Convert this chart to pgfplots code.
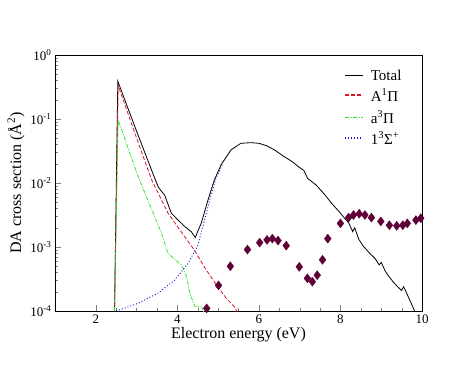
\documentclass[border=0pt]{standalone}
\usepackage{fontspec}
\setmainfont{Liberation Serif}
\usepackage{pgfplots}
\pgfplotsset{compat=1.18}
\definecolor{dmaroon}{RGB}{96,0,56}
\definecolor{cred}{RGB}{220,20,40}
\definecolor{cgreen}{RGB}{40,230,40}
\definecolor{cblue}{RGB}{20,20,200}
\begin{document}
\begin{tikzpicture}
\useasboundingbox (-55pt,-55pt) rectangle (419pt,311pt);
\begin{axis}[
  at={(0pt,0pt)}, anchor=south west,
  scale only axis, width=367pt, height=256pt,
  ymode=log, xmin=1, xmax=10, ymin=1e-4, ymax=1,
  xtick={2,4,6,8,10}, minor x tick num=3,
  ytick={1e-4,1e-3,1e-2,1e-1,1},
  yticklabels={10\textsuperscript{-4},10\textsuperscript{-3},10\textsuperscript{-2},10\textsuperscript{-1},10\textsuperscript{0}},
  tick align=inside, xtick pos=bottom, ytick pos=left,
  major tick length=6pt, minor tick length=3pt,
  /pgf/number format/assume math mode=true,
  tick label style={font=\fontsize{13}{15}\selectfont},
  label style={font=\fontsize{16}{18}\selectfont},
  xlabel={Electron energy (eV)},
  ylabel={DA cross section (Å\textsuperscript{2})},
  xlabel style={yshift=3pt},
  ylabel style={yshift=-1pt},
  axis line style={line width=0.8pt},
]
\addplot[draw=black, line width=0.8pt] coordinates {
(2.46,1e-4) (2.54,0.389) (3.0,0.0646) (3.37,0.0158) (3.53,0.00871) (3.60,0.00759)
(3.69,0.00646) (3.85,0.00339) (4.02,0.00263) (4.18,0.00209) (4.34,0.00174) (4.44,0.00141)
(4.59,0.0024) (4.75,0.00537) (4.91,0.0112) (5.07,0.0191) (5.32,0.0331) (5.56,0.0417)
(5.80,0.0427) (6.0,0.0417) (6.2,0.0380) (6.4,0.0324) (6.6,0.0263) (6.8,0.0219)
(7.0,0.0174) (7.1,0.0158) (7.2,0.0117) (7.4,0.00933) (7.6,0.00676) (7.8,0.00468)
(8.0,0.00339) (8.1,0.00282) (8.2,0.0024) (8.3,0.00174) (8.35,0.002) (8.45,0.00132)
(8.55,0.00105) (8.65,0.00089) (8.75,0.00076) (8.85,0.00066) (8.95,0.000525) (9.0,0.000575)
(9.1,0.000417) (9.2,0.000339) (9.3,0.000282) (9.4,0.00024) (9.5,0.000209) (9.55,0.00024)
(9.65,0.000174) (9.75,0.000126) (9.85,0.0000891)
};
\addplot[draw=cred, dash pattern=on 4pt off 2pt, line width=0.8pt] coordinates {
(2.46,1e-4) (2.55,0.331) (3.04,0.0427) (3.37,0.0112) (3.77,0.00339) (4.18,0.00145)
(4.42,0.00089) (4.7,0.000447) (4.99,0.00024) (5.2,0.000158) (5.40,0.000117) (5.5,0.0000891)
};
\addplot[draw=cgreen, dash pattern=on 4pt off 1.5pt on 1pt off 1.5pt, line width=0.8pt] coordinates {
(2.46,1e-4) (2.55,0.0955) (3.04,0.0126) (3.3,0.00501) (3.61,0.00166) (3.77,0.000794)
(4.1,0.000525) (4.22,0.000355) (4.3,0.0002) (4.42,0.00012) (4.6,0.000115) (4.7,0.0000794)
};
\addplot[draw=cblue, dash pattern=on 1pt off 2pt, line width=0.9pt] coordinates {
(2.5,1e-4) (3.04,0.000132) (3.53,0.000191) (3.93,0.000302) (4.26,0.00055) (4.5,0.00105)
(4.66,0.00251) (4.8,0.00562) (4.95,0.012) (5.1,0.019)
};
\addplot[only marks, mark=diamond*, mark size=4.5pt, color=dmaroon] coordinates {
(4.72,0.00011) (5.01,0.000251) (5.30,0.000501) (5.72,0.000912) (6.02,0.00117) (6.20,0.00129)
(6.33,0.00135) (6.47,0.00126) (6.67,0.00105) (6.99,0.00049) (7.19,0.000324) (7.31,0.000288)
(7.43,0.000363) (7.56,0.000631) (7.69,0.00135) (8.00,0.00234) (8.20,0.00288) (8.32,0.00316)
(8.46,0.00331) (8.60,0.00316) (8.76,0.00288) (8.99,0.00251) (9.20,0.00219) (9.38,0.00214)
(9.53,0.00219) (9.64,0.00234) (9.85,0.00263) (9.97,0.00282)
};
% legend samples drawn in axis coordinates
\addplot[draw=black, line width=0.9pt] coordinates {(8.12,0.487) (8.56,0.487)};
\addplot[draw=cred, dash pattern=on 4pt off 2pt, line width=1.2pt] coordinates {(8.12,0.237) (8.56,0.237)};
\addplot[draw=cgreen, dash pattern=on 4pt off 1.5pt on 1pt off 1.5pt, line width=1.2pt] coordinates {(8.12,0.107) (8.56,0.107)};
\addplot[draw=cblue, dash pattern=on 1pt off 2pt, line width=1.1pt] coordinates {(8.12,0.0505) (8.56,0.0505)};
\begin{scope}[every node/.style={anchor=west, font=\fontsize{15}{16}\selectfont, inner sep=0pt}]
\node at (axis cs:8.74,0.487) {Total};
\node at (axis cs:8.74,0.237) {A\textsuperscript{1}Π};
\node at (axis cs:8.74,0.107) {a\textsuperscript{3}Π};
\node at (axis cs:8.74,0.0505) {1\textsuperscript{3}Σ\textsuperscript{+}};
\end{scope}
\end{axis}
\end{tikzpicture}
\end{document}
